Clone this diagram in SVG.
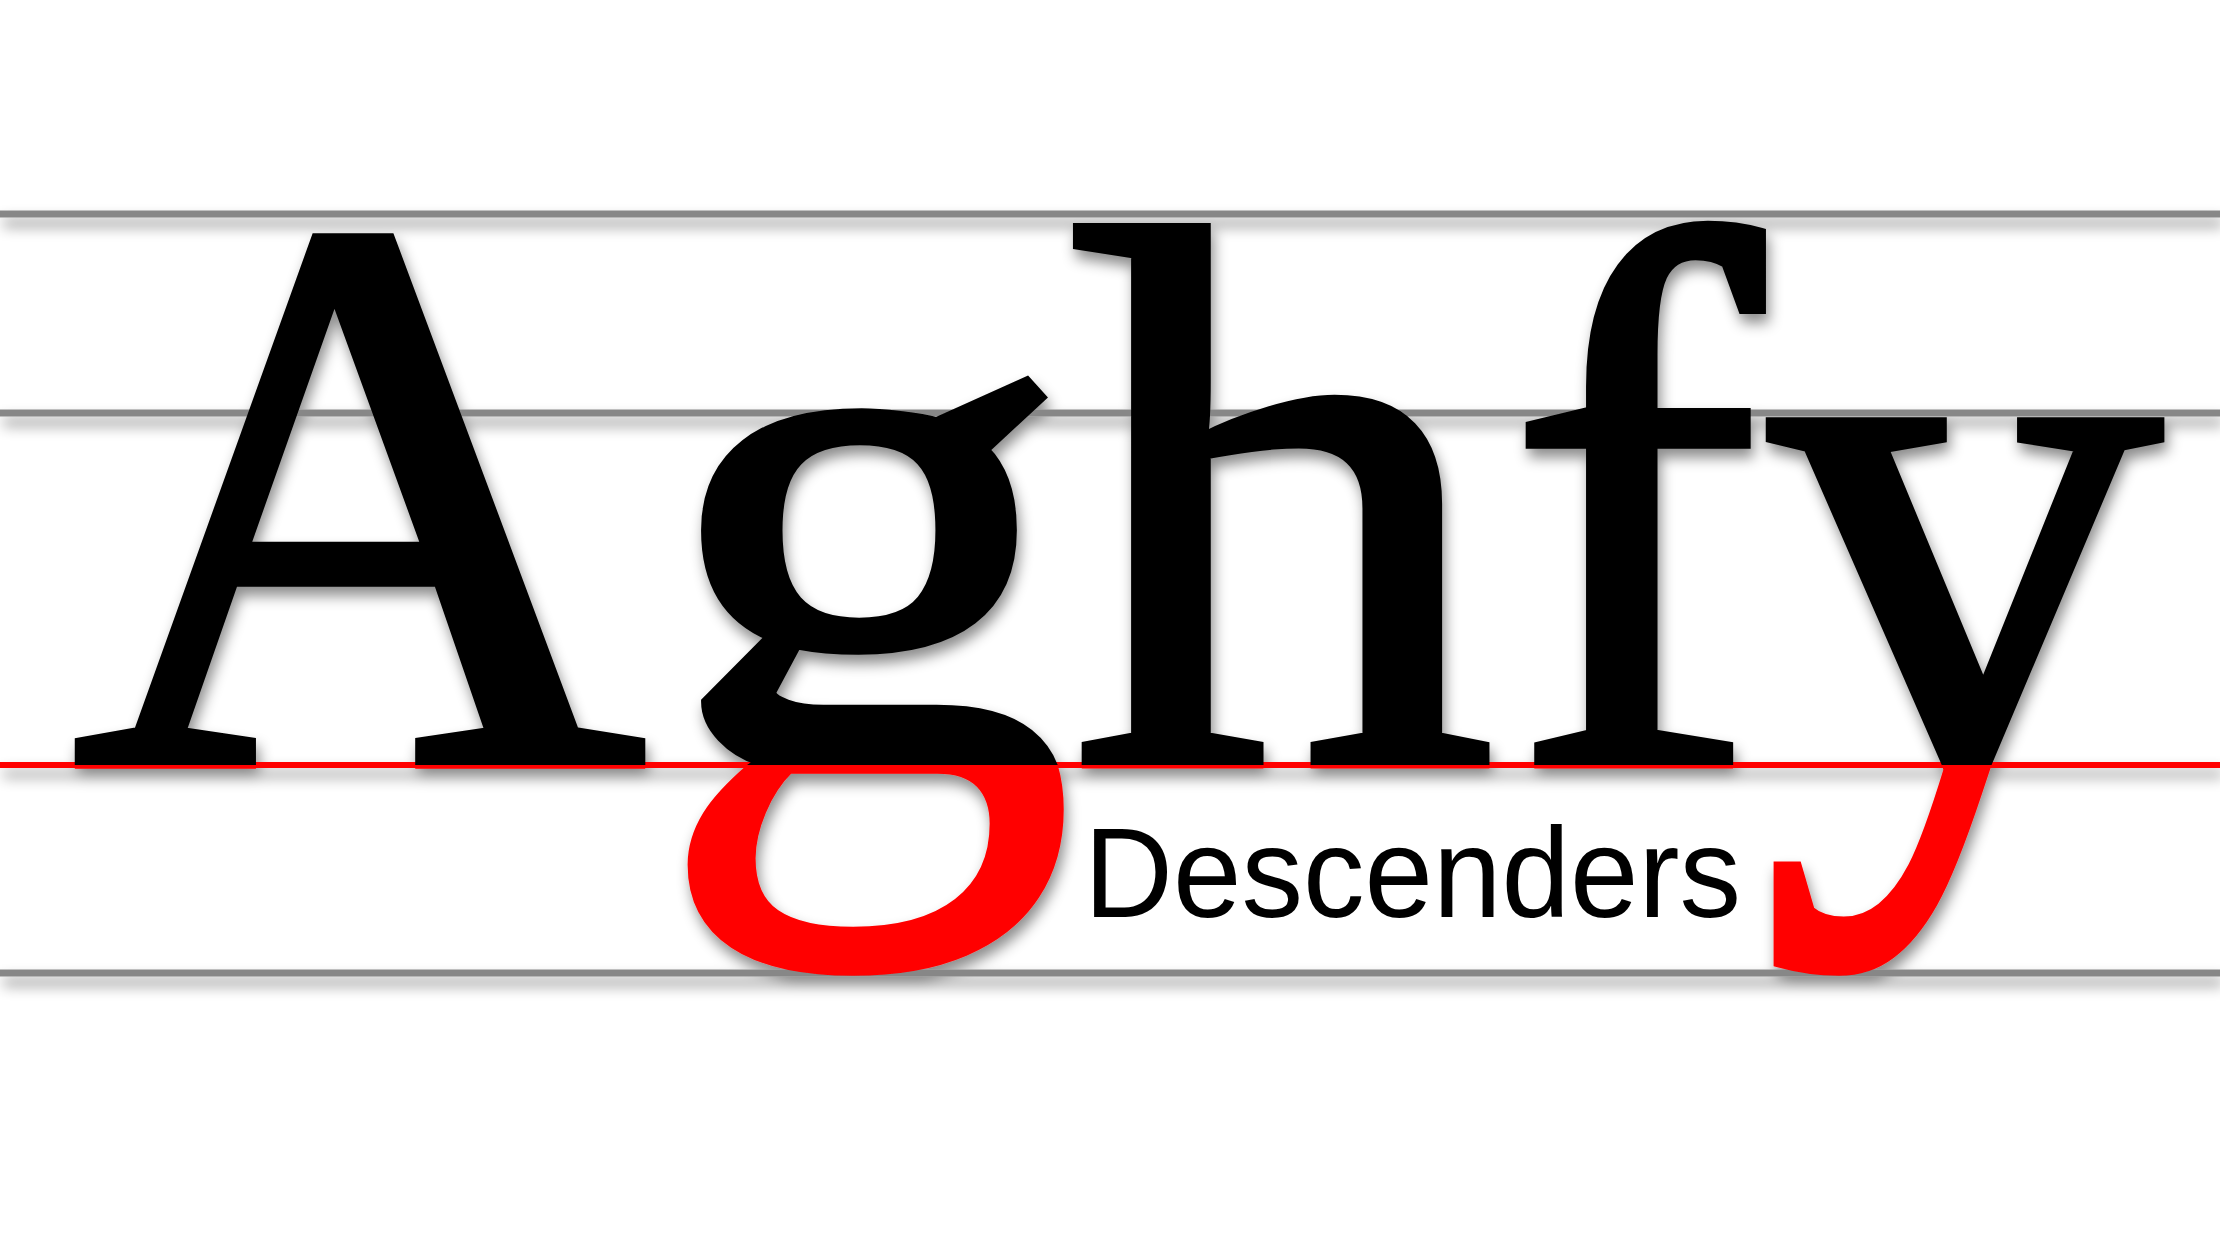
<svg xmlns="http://www.w3.org/2000/svg" width="2220" height="1248" viewBox="0 0 2220 1248">
<style>
.rule{stroke:#878787;stroke-width:7}
.base{stroke:#ff0000;stroke-width:6}
.big{font-family:"Liberation Serif","Times New Roman",serif;font-size:795px}
.lbl{font-family:"Liberation Sans",Arial,sans-serif;font-size:128px;fill:#000}
</style>
<defs>
<filter id="sh" x="-5%" y="-5%" width="110%" height="120%">
<feDropShadow dx="3" dy="9" stdDeviation="7" flood-color="#000" flood-opacity="0.45"/>
</filter>
<clipPath id="above"><rect x="0" y="0" width="2220" height="765"/></clipPath>
<clipPath id="below"><rect x="0" y="765" width="2220" height="483"/></clipPath>
<g id="word" class="big">
<text transform="translate(72,763)">A</text>
<text transform="translate(657,765) scale(1.05,0.94)">g</text>
<text transform="translate(1070,763) scale(1.07,0.97)">h</text>
<text transform="translate(1507,763) scale(0.96,0.96)">f</text>
<text transform="translate(1761,765) scale(1.01,0.94)">y</text>
</g>
</defs>
<rect width="2220" height="1248" fill="#fff"/>
<g id="diagram" filter="url(#sh)">
<g id="rules">
<line class="rule" x1="0" y1="214" x2="2220" y2="214"/>
<line class="rule" x1="0" y1="413" x2="2220" y2="413"/>
<line class="base" x1="0" y1="765" x2="2220" y2="765"/>
<line class="rule" x1="0" y1="973" x2="2220" y2="973"/>
</g>
<g id="letters" stroke-width="10" stroke-linejoin="miter">
<use href="#word" fill="#000" stroke="#000" clip-path="url(#above)"/>
<g clip-path="url(#below)">
<use href="#word" fill="#ff0000" stroke="#ff0000" transform="translate(0,765) scale(1,1.27) translate(0,-765)"/>
</g>
</g>
</g>
<g id="label">
<text class="lbl" x="1084" y="917" textLength="657" lengthAdjust="spacingAndGlyphs">Descenders</text>
</g>
</svg>
